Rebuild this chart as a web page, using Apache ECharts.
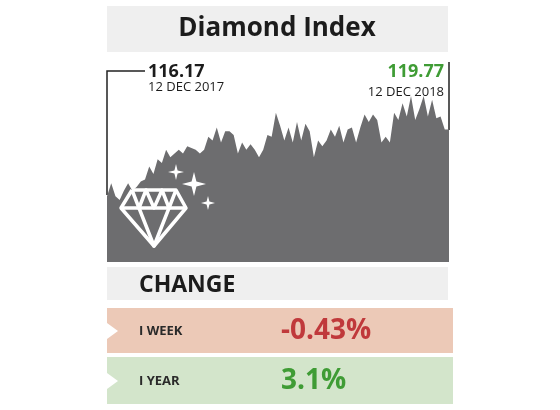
<!DOCTYPE html>
<html><head><meta charset="utf-8">
<script src="https://cdn.jsdelivr.net/npm/echarts@6/dist/echarts.min.js"></script>
<style>html,body{margin:0;background:#fff}#c{width:560px;height:410px}</style>
</head><body><div id="c"></div>
<script>
// index values, Dec 2017 -> Dec 2018
const indexValues = [
  116.2, 116.9, 116.2, 116.0, 116.5, 116.9, 116.5, 116.7, 117.0, 117.1,
  117.8, 117.4, 118.2, 118.0, 118.7, 118.3, 118.5, 118.7, 118.5, 118.9,
  118.8, 118.7, 118.5, 118.7, 119.4, 119.2, 119.9, 119.1, 119.7, 119.7,
  119.5, 118.5, 119.1, 118.7, 119.0, 118.7, 118.3, 118.7, 119.5, 119.4,
  120.7, 120.0, 119.2, 119.9, 119.1, 120.2, 119.2, 120.1, 119.7, 118.3,
  119.2, 118.9, 119.2, 119.8, 119.4, 120.0, 119.1, 119.8, 119.9, 119.1,
  119.9, 120.6, 120.2, 120.6, 120.3, 119.1, 119.4, 119.1, 120.7, 120.3,
  121.2, 120.5, 121.6, 120.3, 120.9, 121.6, 120.5, 121.4, 120.4, 120.5,
  119.8, 119.8
];
const startLabel = ['116.17', '12 DEC 2017'];
const endLabel = ['119.77', '12 DEC 2018'];
const changeLabels = ['I WEEK', 'I YEAR'];
const changeValues = ['-0.43%', '3.1%'];

const chart = echarts.init(document.getElementById('c'));
const font = 'Open Sans';

// 4-point sparkle as polygon
function star(cx, cy, r) {
  const k = r * 0.2;
  return [[cx, cy - r], [cx + k, cy - k], [cx + r, cy], [cx + k, cy + k],
          [cx, cy + r], [cx - k, cy + k], [cx - r, cy], [cx - k, cy - k]];
}
const w = {stroke: '#fff', lineWidth: 3.5, fill: null, lineJoin: 'round'};

chart.setOption({
  animation: false,
  grid: {left: 107, right: 111, top: 50, bottom: 148},
  xAxis: {type: 'category', show: false, boundaryGap: false, data: indexValues.map((v, i) => i)},
  yAxis: {type: 'value', show: false, min: 112.67, max: 124.07},
  series: [{
    type: 'line', data: indexValues, symbol: 'none',
    lineStyle: {width: 0}, areaStyle: {color: '#6d6d6f', opacity: 1}
  }],
  graphic: [
    {type: 'rect', shape: {x: 107, y: 6, width: 341, height: 46}, style: {fill: '#efefef'}},
    {type: 'text', x: 277, y: 29, style: {text: 'Diamond Index', font: 'bold 26px ' + font, fill: '#1c1c1c', align: 'center', verticalAlign: 'middle'}},
    // start / end markers
    {type: 'polyline', shape: {points: [[145, 71], [107, 71], [107, 195]]}, style: {stroke: '#222', lineWidth: 1.5, fill: null}},
    {type: 'polyline', shape: {points: [[449, 62], [449, 130]]}, style: {stroke: '#222', lineWidth: 1.5, fill: null}},
    {type: 'text', x: 148, y: 72, style: {text: startLabel[0], font: 'bold 18px ' + font, fill: '#1c1c1c', verticalAlign: 'middle'}},
    {type: 'text', x: 148, y: 87, style: {text: startLabel[1], font: '13px ' + font, fill: '#1c1c1c', verticalAlign: 'middle'}},
    {type: 'text', x: 444, y: 72, style: {text: endLabel[0], font: 'bold 18px ' + font, fill: '#3f9c35', align: 'right', verticalAlign: 'middle'}},
    {type: 'text', x: 444, y: 92, style: {text: endLabel[1], font: '13px ' + font, fill: '#1c1c1c', align: 'right', verticalAlign: 'middle'}},
    // diamond icon
    {type: 'polyline', z: 10, shape: {points: [[132, 190], [176, 190], [186, 208], [154, 246], [121, 208], [132, 190]]}, style: w},
    {type: 'polyline', z: 10, shape: {points: [[121, 208], [186, 208]]}, style: w},
    {type: 'polyline', z: 10, shape: {points: [[132, 190], [139, 208], [146, 190], [154, 208], [162, 190], [169, 208], [176, 190]]}, style: w},
    {type: 'polyline', z: 10, shape: {points: [[139, 208], [154, 246], [169, 208]]}, style: w},
    {type: 'polygon', z: 10, shape: {points: star(176, 172, 8)}, style: {fill: '#fff'}},
    {type: 'polygon', z: 10, shape: {points: star(194, 184, 12)}, style: {fill: '#fff'}},
    {type: 'polygon', z: 10, shape: {points: star(208, 203, 7)}, style: {fill: '#fff'}},
    // change panel
    {type: 'rect', shape: {x: 107, y: 267, width: 341, height: 33}, style: {fill: '#efefef'}},
    {type: 'text', x: 139, y: 285, style: {text: 'CHANGE', font: 'bold 23px ' + font, fill: '#1c1c1c', verticalAlign: 'middle'}},
    {type: 'rect', shape: {x: 107, y: 308, width: 346, height: 45}, style: {fill: '#ecc9b7'}},
    {type: 'rect', shape: {x: 107, y: 357, width: 346, height: 47}, style: {fill: '#d3e5cb'}},
    {type: 'polygon', shape: {points: [[107, 323], [118, 331], [107, 339]]}, style: {fill: '#fff'}},
    {type: 'polygon', shape: {points: [[107, 373], [118, 381], [107, 389]]}, style: {fill: '#fff'}},
    {type: 'text', x: 139, y: 331, style: {text: changeLabels[0], font: 'bold 13px ' + font, fill: '#2a2a2a', verticalAlign: 'middle'}},
    {type: 'text', x: 139, y: 381, style: {text: changeLabels[1], font: 'bold 13px ' + font, fill: '#2a2a2a', verticalAlign: 'middle'}},
    {type: 'text', x: 281, y: 331, style: {text: changeValues[0], font: 'bold 28px ' + font, fill: '#c0393b', verticalAlign: 'middle'}},
    {type: 'text', x: 281, y: 381, style: {text: changeValues[1], font: 'bold 28px ' + font, fill: '#3f9c35', verticalAlign: 'middle'}}
  ]
});
</script>
</body></html>
